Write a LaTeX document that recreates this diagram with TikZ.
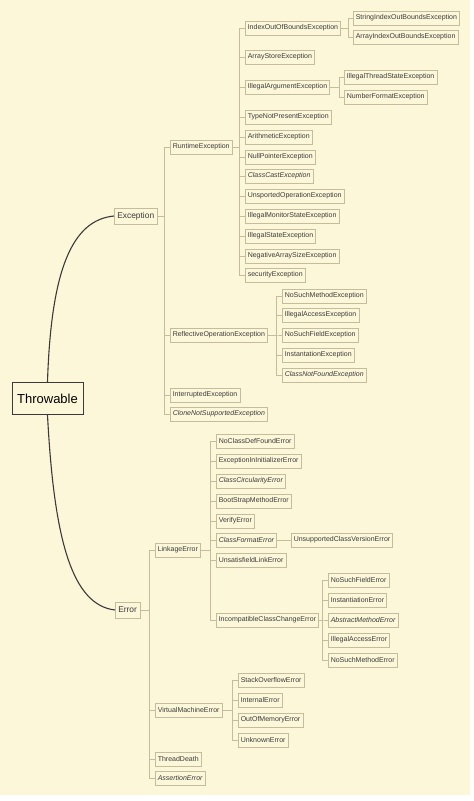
\documentclass[tikz,border=0pt]{standalone}
\usepackage{fontspec}
\setmainfont{Liberation Sans}
\usetikzlibrary{positioning}

\definecolor{paper}{HTML}{FDF7DA}
\definecolor{twig}{HTML}{C4BC9C}
\definecolor{inkgray}{HTML}{3A3A3A}

\tikzset{
  leaf/.style={draw=twig, fill=paper, text=inkgray, font=\fontsize{7}{8}\selectfont,
    inner xsep=2.5pt, inner ysep=0pt, minimum height=14pt, anchor=west, line width=0.6pt},
  leafit/.style={leaf, font=\fontsize{7}{8}\selectfont\itshape},
  branch/.style={leaf, font=\fontsize{8.4}{9}\selectfont, minimum height=16pt, inner xsep=3pt},
  rootbox/.style={draw=inkgray, fill=paper, text=black, font=\fontsize{13}{15}\selectfont,
    line width=0.9pt, minimum width=71pt, minimum height=32pt},
  link/.style={draw=twig, line width=0.8pt},
  trunk/.style={draw=inkgray, line width=1.1pt},
}

\begin{document}
\begin{tikzpicture}[x=1pt, y=-1pt]
	% page and paper
	\useasboundingbox (0,0) rectangle (474,801);
	\fill[white] (0,0) rectangle (474,801);
	\fill[paper] (0,0) rectangle (470,795);

	% root and first level
	\node[rootbox] (thr) at (47.5,398.5) {Throwable};
	\node[branch] (exc) at (114,216) {Exception};
	\node[branch] (err) at (115,610) {Error};

	% Exception subtree
	\node[leaf] (rte) at (170,147) {RuntimeException};
	\node[leaf] (roe) at (170,335) {ReflectiveOperationException};
	\node[leaf] (ie) at (170,395) {InterruptedException};
	\node[leafit] (cnse) at (170,414) {CloneNotSupportedException};

	\node[leaf] (ioobe) at (245,28) {IndexOutOfBoundsException};
	\node[leaf] (ase) at (245,57) {ArrayStoreException};
	\node[leaf] (iae) at (245,87) {IllegalArgumentException};
	\node[leaf] (tnpe) at (245,117) {TypeNotPresentException};
	\node[leaf] (ae) at (245,137) {ArithmeticException};
	\node[leaf] (npe) at (245,157) {NullPointerException};
	\node[leafit] (cce) at (245,176) {ClassCastException};
	\node[leaf] (uoe) at (245,196) {UnsportedOperationException};
	\node[leaf] (imse) at (245,216) {IllegalMonitorStateException};
	\node[leaf] (ise) at (245,236) {IllegalStateException};
	\node[leaf] (nase) at (245,256) {NegativeArraySizeException};
	\node[leaf] (se) at (245,275) {securityException};

	\node[leaf] (sioobe) at (353,18) {StringIndexOutBoundsException};
	\node[leaf] (aioobe) at (353,37) {ArrayIndexOutBoundsException};
	\node[leaf] (itse) at (344,77) {IllegalThreadStateException};
	\node[leaf] (nfe) at (344,97) {NumberFormatException};

	\node[leaf] (nsme) at (282,296) {NoSuchMethodException};
	\node[leaf] (iace) at (282,315) {IllegalAccessException};
	\node[leaf] (nsfe) at (282,335) {NoSuchFieldException};
	\node[leaf] (inse) at (282,355) {InstantationException};
	\node[leafit] (cnfe) at (282,375) {ClassNotFoundException};

	% Error subtree
	\node[leaf] (le) at (155,550) {LinkageError};
	\node[leaf] (vme) at (155,710) {VirtualMachineError};
	\node[leaf] (td) at (155,759) {ThreadDeath};
	\node[leafit] (aerr) at (155,778) {AssertionError};

	\node[leaf] (ncdfe) at (216,441) {NoClassDefFoundError};
	\node[leaf] (eiie) at (216,461) {ExceptionInInitializerError};
	\node[leafit] (ccerr) at (216,481) {ClassCircularityError};
	\node[leaf] (bsme) at (216,501) {BootStrapMethodError};
	\node[leaf] (verr) at (216,521) {VerifyError};
	\node[leafit] (cferr) at (216,540) {ClassFormatError};
	\node[leaf] (ulerr) at (216,560) {UnsatisfieldLinkError};
	\node[leaf] (iccerr) at (216,620) {IncompatibleClassChangeError};
	\node[leaf] (ucverr) at (291,540) {UnsupportedClassVersionError};

	\node[leaf] (nsferr) at (328,580) {NoSuchFieldError};
	\node[leaf] (inerr) at (328,600) {InstantiationError};
	\node[leafit] (amerr) at (328,620) {AbstractMethodError};
	\node[leaf] (iaerr) at (328,640) {IllegalAccessError};
	\node[leaf] (nsmerr) at (328,660) {NoSuchMethodError};

	\node[leaf] (soerr) at (238,680) {StackOverflowError};
	\node[leaf] (interr) at (238,700) {InternalError};
	\node[leaf] (oomerr) at (238,720) {OutOfMemoryError};
	\node[leaf] (unkerr) at (238,740) {UnknownError};

	% trunk curves
	\draw[trunk] (thr.north) .. controls (51,270) and (72,220) .. (exc.west);
	\draw[trunk] (thr.south) .. controls (54,540) and (72,605) .. (err.west);

	% brackets
	\foreach \c in {rte,roe,ie,cnse} \draw[link] (exc.east) -| ([xshift=-6pt]\c.west) -- (\c.west);
	\foreach \c in {ioobe,ase,iae,tnpe,ae,npe,cce,uoe,imse,ise,nase,se} \draw[link] (rte.east) -| ([xshift=-6pt]\c.west) -- (\c.west);
	\foreach \c in {sioobe,aioobe} \draw[link] (ioobe.east) -| ([xshift=-5pt]\c.west) -- (\c.west);
	\foreach \c in {itse,nfe} \draw[link] (iae.east) -| ([xshift=-5pt]\c.west) -- (\c.west);
	\foreach \c in {nsme,iace,nsfe,inse,cnfe} \draw[link] (roe.east) -| ([xshift=-6pt]\c.west) -- (\c.west);
	\foreach \c in {le,vme,td,aerr} \draw[link] (err.east) -| ([xshift=-6pt]\c.west) -- (\c.west);
	\foreach \c in {ncdfe,eiie,ccerr,bsme,verr,cferr,ulerr,iccerr} \draw[link] (le.east) -| ([xshift=-6pt]\c.west) -- (\c.west);
	\draw[link] (cferr.east) -- (ucverr.west);
	\foreach \c in {nsferr,inerr,amerr,iaerr,nsmerr} \draw[link] (iccerr.east) -| ([xshift=-6pt]\c.west) -- (\c.west);
	\foreach \c in {soerr,interr,oomerr,unkerr} \draw[link] (vme.east) -| ([xshift=-6pt]\c.west) -- (\c.west);
\end{tikzpicture}
\end{document}
